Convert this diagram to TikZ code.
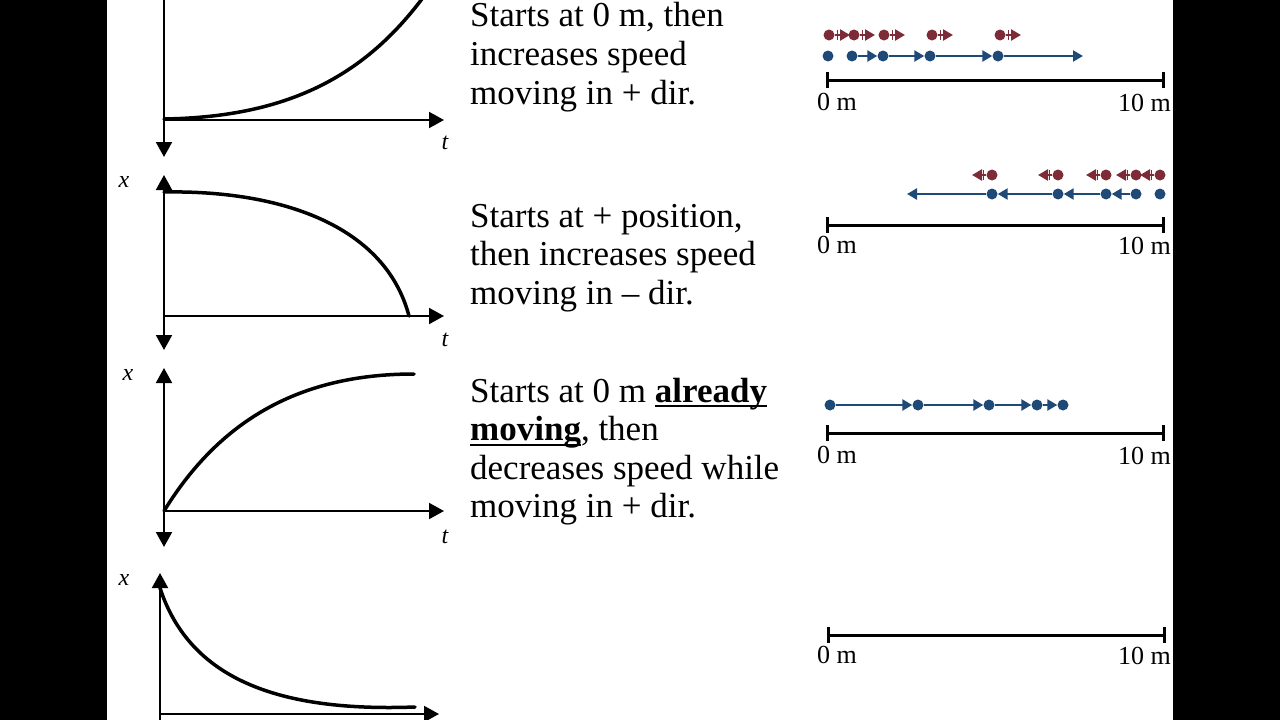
\documentclass[tikz,border=0pt]{standalone}
\usepackage{fontspec}
\setmainfont{Liberation Serif}
\usetikzlibrary{arrows.meta,decorations.markings}
\definecolor{dotblue}{HTML}{1F4A78}
\definecolor{accred}{HTML}{7D2B36}
\newcommand\myul[1]{\setbox0\hbox{#1}\rlap{\rule[-5pt]{\wd0}{2pt}}\box0}
\tikzset{
  axis/.style={line width=2pt, >={Triangle[length=15pt,width=16pt]}},
  curve/.style={line width=3.5pt, line cap=round},
  nline/.style={line width=3pt},
  txt/.style={font=\fontsize{35}{38.5}\selectfont, inner sep=0, anchor=base west},
  numlab/.style={font=\fontsize{26}{26}\selectfont, inner sep=0},
  axlab/.style={font=\fontsize{24}{24}\selectfont\itshape, inner sep=0},
  bdot/.style={circle, fill=dotblue, inner sep=0, minimum size=11pt},
  rdot/.style={circle, fill=accred, inner sep=0, minimum size=11pt},
  barrow/.style={draw=dotblue, line width=2.4pt, >={Triangle[length=10pt,width=11pt]}, ->},
  racc/.style={draw=accred, line width=2.4pt, >={Triangle[length=10pt,width=11pt]}, ->,
    postaction={decorate},
    decoration={markings, mark=at position 2.5pt with {\draw[-, accred, line width=1pt] (0pt,-5pt) -- (0pt,5pt) (3.5pt,-5pt) -- (3.5pt,5pt);}}}
}
\begin{document}
\begin{tikzpicture}[x=1pt,y=-1pt]
\clip (0,0) rectangle (1280,720);
\fill[white] (0,0) rectangle (1280,720);
\fill[black] (0,0) rectangle (107,720);
\fill[black] (1173,0) rectangle (1280,720);

% ---------- graph 1
\draw[axis,->] (164,-20) -- (164,157);
\draw[axis,->] (164,120) -- (444,120);
\node[axlab] (t1) at (445,143) {t};
\draw[curve] (164,119) .. controls (290,117) and (370,75) .. (432,-15);

% ---------- graph 2
\draw[axis,<->] (164,175) -- (164,350);
\draw[axis,->] (164,316) -- (444,316);
\node[axlab] (x2) at (124,182) {x};
\node[axlab] (t2) at (445,340) {t};
\draw[curve] (164,192) .. controls (280,190) and (385,225) .. (409,316);

% ---------- graph 3
\draw[axis,<->] (164,368) -- (164,547);
\draw[axis,->] (164,511) -- (444,511);
\node[axlab] (x3) at (128,375) {x};
\node[axlab] (t3) at (445,537) {t};
\draw[curve] (164,511) .. controls (220,420) and (300,374) .. (414,374);

% ---------- graph 4
\draw[axis,<-] (160,573) -- (160,760);
\draw[axis,->] (160,714) -- (439,714);
\node[axlab] (x4) at (124,580) {x};
\draw[curve] (160,588) .. controls (190,680) and (280,712) .. (415,707);

% ---------- texts
\node[txt] (d1a) at (470,27) {Starts at 0 m, then};
\node[txt] (d1b) at (470,65.5) {increases speed};
\node[txt] (d1c) at (470,104) {moving in + dir.};

\node[txt] (d2a) at (470,227) {Starts at + position,};
\node[txt] (d2b) at (470,265.5) {then increases speed};
\node[txt] (d2c) at (470,304) {moving in – dir.};

\node[txt] (d3a) at (470,402) {Starts at 0 m \myul{\textbf{already}}};
\node[txt] (d3b) at (470,440.5) {\myul{\textbf{moving}}, then};
\node[txt] (d3c) at (470,479) {decreases speed while};
\node[txt] (d3d) at (470,517.5) {moving in + dir.};

% ---------- number line 1
\draw[nline] (827,72) -- (827,88) (827,80) -- (1163,80) (1163,72) -- (1163,88);
\node[numlab, anchor=base west] (l1a) at (817,110) {0 m};
\node[numlab, anchor=base east] (l1b) at (1171,111) {10 m};
\node[bdot] (b1a) at (828,56) {};
\node[bdot] (b1b) at (852,56) {};
\node[bdot] (b1c) at (883,56) {};
\node[bdot] (b1d) at (930,56) {};
\node[bdot] (b1e) at (998,56) {};
\coordinate (b1f) at (1083,56);
\draw[barrow] (b1b) -- (b1c);
\draw[barrow] (b1c) -- (b1d);
\draw[barrow] (b1d) -- (b1e);
\draw[barrow] (b1e) -- (b1f);
\node[rdot] (r1a) at (829,35) {};
\node[rdot] (r1b) at (854,35) {};
\node[rdot] (r1c) at (884,35) {};
\node[rdot] (r1d) at (932,35) {};
\node[rdot] (r1e) at (1000,35) {};
\coordinate (r1at) at (850,35);
\coordinate (r1bt) at (875,35);
\coordinate (r1ct) at (905,35);
\coordinate (r1dt) at (953,35);
\coordinate (r1et) at (1021,35);
\draw[racc] (r1a) -- (r1at);
\draw[racc] (r1b) -- (r1bt);
\draw[racc] (r1c) -- (r1ct);
\draw[racc] (r1d) -- (r1dt);
\draw[racc] (r1e) -- (r1et);

% ---------- number line 2
\draw[nline] (827,217) -- (827,233) (827,225) -- (1163,225) (1163,217) -- (1163,233);
\node[numlab, anchor=base west] (l2a) at (817,253) {0 m};
\node[numlab, anchor=base east] (l2b) at (1171,254) {10 m};
\node[bdot] (b2a) at (1160,194) {};
\node[bdot] (b2b) at (1136,194) {};
\node[bdot] (b2c) at (1106,194) {};
\node[bdot] (b2d) at (1058,194) {};
\node[bdot] (b2e) at (992,194) {};
\coordinate (b2f) at (907,194);
\draw[barrow] (b2b) -- (b2c);
\draw[barrow] (b2c) -- (b2d);
\draw[barrow] (b2d) -- (b2e);
\draw[barrow] (b2e) -- (b2f);
\node[rdot] (r2a) at (1160,175) {};
\node[rdot] (r2b) at (1136,175) {};
\node[rdot] (r2c) at (1106,175) {};
\node[rdot] (r2d) at (1058,175) {};
\node[rdot] (r2e) at (992,175) {};
\coordinate (r2at) at (1140,175);
\coordinate (r2bt) at (1116,175);
\coordinate (r2ct) at (1086,175);
\coordinate (r2dt) at (1038,175);
\coordinate (r2et) at (972,175);
\draw[racc] (r2a) -- (r2at);
\draw[racc] (r2b) -- (r2bt);
\draw[racc] (r2c) -- (r2ct);
\draw[racc] (r2d) -- (r2dt);
\draw[racc] (r2e) -- (r2et);

% ---------- number line 3
\draw[nline] (827,425) -- (827,441) (827,433) -- (1163,433) (1163,425) -- (1163,441);
\node[numlab, anchor=base west] (l3a) at (817,463) {0 m};
\node[numlab, anchor=base east] (l3b) at (1171,464) {10 m};
\node[bdot] (b3a) at (830,405) {};
\node[bdot] (b3b) at (918,405) {};
\node[bdot] (b3c) at (989,405) {};
\node[bdot] (b3d) at (1037,405) {};
\node[bdot] (b3e) at (1063,405) {};
\draw[barrow] (b3a) -- (b3b);
\draw[barrow] (b3b) -- (b3c);
\draw[barrow] (b3c) -- (b3d);
\draw[barrow] (b3d) -- (b3e);

% ---------- number line 4
\draw[nline] (828,627) -- (828,643) (828,635) -- (1164,635) (1164,627) -- (1164,643);
\node[numlab, anchor=base west] (l4a) at (817,663) {0 m};
\node[numlab, anchor=base east] (l4b) at (1171,664) {10 m};
\end{tikzpicture}
\end{document}
